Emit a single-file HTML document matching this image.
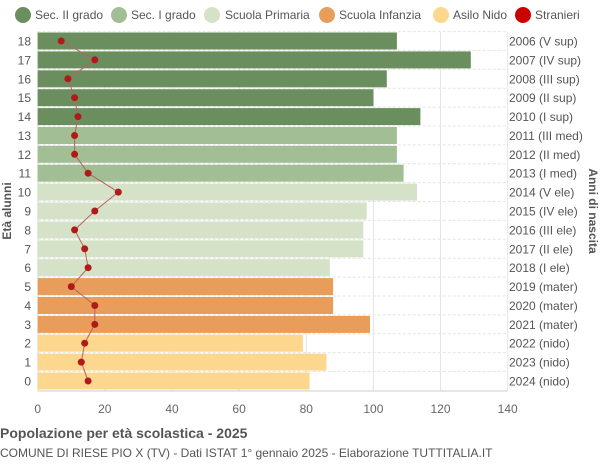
<!DOCTYPE html><html><head><style>body{margin:0;background:#fff}svg{font-family:"Liberation Sans",sans-serif}</style></head><body>
<svg width="600" height="460" xmlns="http://www.w3.org/2000/svg">
<g font-size="12" fill="#555">
<circle cx="23" cy="15" r="8" fill="#6b8e5e"/><text x="35" y="19">Sec. II grado</text>
<circle cx="119" cy="15" r="8" fill="#a1be94"/><text x="131" y="19">Sec. I grado</text>
<circle cx="212" cy="15" r="8" fill="#d5e2c8"/><text x="225" y="19">Scuola Primaria</text>
<circle cx="327" cy="15" r="8" fill="#e99d5a"/><text x="339" y="19">Scuola Infanzia</text>
<circle cx="441" cy="15" r="8" fill="#fdd78d"/><text x="453" y="19">Asilo Nido</text>
<circle cx="523" cy="15" r="8" fill="#cc0000"/><text x="535" y="19">Stranieri</text>
</g>
<g stroke="#e4e4e4">
<line x1="37.7" y1="32" x2="37.7" y2="391"/><line x1="104.8" y1="32" x2="104.8" y2="391"/><line x1="172" y1="32" x2="172" y2="391"/><line x1="239.1" y1="32" x2="239.1" y2="391"/><line x1="306.3" y1="32" x2="306.3" y2="391"/><line x1="373.4" y1="32" x2="373.4" y2="391"/><line x1="440.5" y1="32" x2="440.5" y2="391"/><line x1="507.7" y1="32" x2="507.7" y2="391"/>
</g>
<g stroke="#e4e4e4" stroke-dasharray="3,2">
<line x1="37.7" y1="31.6" x2="507.7" y2="31.6"/><line x1="37.7" y1="50.4" x2="507.7" y2="50.4"/><line x1="37.7" y1="69.3" x2="507.7" y2="69.3"/><line x1="37.7" y1="88.2" x2="507.7" y2="88.2"/><line x1="37.7" y1="107.1" x2="507.7" y2="107.1"/><line x1="37.7" y1="126" x2="507.7" y2="126"/><line x1="37.7" y1="144.9" x2="507.7" y2="144.9"/><line x1="37.7" y1="163.7" x2="507.7" y2="163.7"/><line x1="37.7" y1="182.6" x2="507.7" y2="182.6"/><line x1="37.7" y1="201.5" x2="507.7" y2="201.5"/><line x1="37.7" y1="220.4" x2="507.7" y2="220.4"/><line x1="37.7" y1="239.3" x2="507.7" y2="239.3"/><line x1="37.7" y1="258.2" x2="507.7" y2="258.2"/><line x1="37.7" y1="277.1" x2="507.7" y2="277.1"/><line x1="37.7" y1="296" x2="507.7" y2="296"/><line x1="37.7" y1="314.9" x2="507.7" y2="314.9"/><line x1="37.7" y1="333.8" x2="507.7" y2="333.8"/><line x1="37.7" y1="352.6" x2="507.7" y2="352.6"/><line x1="37.7" y1="371.5" x2="507.7" y2="371.5"/>
</g>
<line x1="37.7" y1="391" x2="507.7" y2="391" stroke="#ccc"/>
<g>
<rect x="37.7" y="32.5" width="359.2" height="17" fill="#6b8e5e"/>
<rect x="37.7" y="51.4" width="433.1" height="17" fill="#6b8e5e"/>
<rect x="37.7" y="70.3" width="349.1" height="17" fill="#6b8e5e"/>
<rect x="37.7" y="89.2" width="335.7" height="17" fill="#6b8e5e"/>
<rect x="37.7" y="108.1" width="382.7" height="17" fill="#6b8e5e"/>
<rect x="37.7" y="127" width="359.2" height="17" fill="#a1be94"/>
<rect x="37.7" y="145.8" width="359.2" height="17" fill="#a1be94"/>
<rect x="37.7" y="164.7" width="365.9" height="17" fill="#a1be94"/>
<rect x="37.7" y="183.6" width="379.3" height="17" fill="#d5e2c8"/>
<rect x="37.7" y="202.5" width="329" height="17" fill="#d5e2c8"/>
<rect x="37.7" y="221.4" width="325.6" height="17" fill="#d5e2c8"/>
<rect x="37.7" y="240.3" width="325.6" height="17" fill="#d5e2c8"/>
<rect x="37.7" y="259.2" width="292.1" height="17" fill="#d5e2c8"/>
<rect x="37.7" y="278.1" width="295.4" height="17" fill="#e99d5a"/>
<rect x="37.7" y="297" width="295.4" height="17" fill="#e99d5a"/>
<rect x="37.7" y="315.9" width="332.3" height="17" fill="#e99d5a"/>
<rect x="37.7" y="334.7" width="265.2" height="17" fill="#fdd78d"/>
<rect x="37.7" y="353.6" width="288.7" height="17" fill="#fdd78d"/>
<rect x="37.7" y="372.5" width="271.9" height="17" fill="#fdd78d"/>
</g>
<g font-size="12" fill="#555" text-anchor="end">
<text x="31" y="45.5">18</text><text x="31" y="64.4">17</text><text x="31" y="83.3">16</text><text x="31" y="102.2">15</text><text x="31" y="121.1">14</text><text x="31" y="140">13</text><text x="31" y="158.8">12</text><text x="31" y="177.7">11</text><text x="31" y="196.6">10</text><text x="31" y="215.5">9</text><text x="31" y="234.4">8</text><text x="31" y="253.3">7</text><text x="31" y="272.2">6</text><text x="31" y="291.1">5</text><text x="31" y="310">4</text><text x="31" y="328.9">3</text><text x="31" y="347.7">2</text><text x="31" y="366.6">1</text><text x="31" y="385.5">0</text>
</g>
<g font-size="12" fill="#555">
<text x="509" y="45.5">2006 (V sup)</text><text x="509" y="64.4">2007 (IV sup)</text><text x="509" y="83.3">2008 (III sup)</text><text x="509" y="102.2">2009 (II sup)</text><text x="509" y="121.1">2010 (I sup)</text><text x="509" y="140">2011 (III med)</text><text x="509" y="158.8">2012 (II med)</text><text x="509" y="177.7">2013 (I med)</text><text x="509" y="196.6">2014 (V ele)</text><text x="509" y="215.5">2015 (IV ele)</text><text x="509" y="234.4">2016 (III ele)</text><text x="509" y="253.3">2017 (II ele)</text><text x="509" y="272.2">2018 (I ele)</text><text x="509" y="291.1">2019 (mater)</text><text x="509" y="310">2020 (mater)</text><text x="509" y="328.9">2021 (mater)</text><text x="509" y="347.7">2022 (nido)</text><text x="509" y="366.6">2023 (nido)</text><text x="509" y="385.5">2024 (nido)</text>
</g>
<g font-size="12" fill="#666" text-anchor="middle">
<text x="37.7" y="413">0</text><text x="104.8" y="413">20</text><text x="172" y="413">40</text><text x="239.1" y="413">60</text><text x="306.3" y="413">80</text><text x="373.4" y="413">100</text><text x="440.5" y="413">120</text><text x="507.7" y="413">140</text>
</g>
<polyline points="61.2,41 94.8,59.9 67.9,78.8 74.6,97.7 78,116.6 74.6,135.5 74.6,154.3 88.1,173.2 118.3,192.1 94.8,211 74.6,229.9 84.7,248.8 88.1,267.7 71.3,286.6 94.8,305.5 94.8,324.4 84.7,343.2 81.3,362.1 88.1,381" fill="none" stroke="#b5655a" stroke-width="1"/>
<g fill="#b01a1a">
<circle cx="61.2" cy="41" r="3.5"/><circle cx="94.8" cy="59.9" r="3.5"/><circle cx="67.9" cy="78.8" r="3.5"/><circle cx="74.6" cy="97.7" r="3.5"/><circle cx="78" cy="116.6" r="3.5"/><circle cx="74.6" cy="135.5" r="3.5"/><circle cx="74.6" cy="154.3" r="3.5"/><circle cx="88.1" cy="173.2" r="3.5"/><circle cx="118.3" cy="192.1" r="3.5"/><circle cx="94.8" cy="211" r="3.5"/><circle cx="74.6" cy="229.9" r="3.5"/><circle cx="84.7" cy="248.8" r="3.5"/><circle cx="88.1" cy="267.7" r="3.5"/><circle cx="71.3" cy="286.6" r="3.5"/><circle cx="94.8" cy="305.5" r="3.5"/><circle cx="94.8" cy="324.4" r="3.5"/><circle cx="84.7" cy="343.2" r="3.5"/><circle cx="81.3" cy="362.1" r="3.5"/><circle cx="88.1" cy="381" r="3.5"/>
</g>
<text x="11" y="211" font-size="12" font-weight="bold" fill="#555" text-anchor="middle" transform="rotate(-90 11 211)">Età alunni</text>
<text x="589" y="211" font-size="12" font-weight="bold" fill="#555" text-anchor="middle" transform="rotate(90 589 211)">Anni di nascita</text>
<text x="0" y="438" font-size="14" font-weight="bold" fill="#555">Popolazione per età scolastica - 2025</text>
<text x="0" y="457" font-size="12" fill="#555">COMUNE DI RIESE PIO X (TV) - Dati ISTAT 1° gennaio 2025 - Elaborazione TUTTITALIA.IT</text>
</svg></body></html>
